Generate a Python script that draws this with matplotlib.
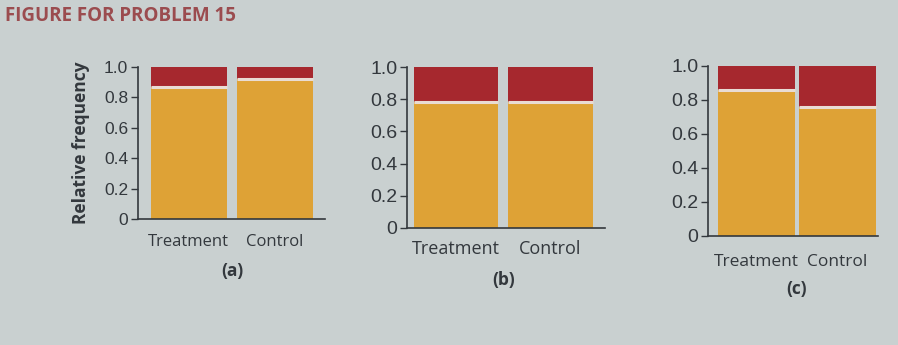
import matplotlib
matplotlib.use("Agg")
import matplotlib.pyplot as plt

# relative frequencies (lower = yellow, upper = red)
groups = ["Treatment", "Control"]
panel_names = ["(a)", "(b)", "(c)"]
lower_a = [0.87, 0.92]
upper_a = [0.13, 0.08]
lower_b = [0.78, 0.78]
upper_b = [0.22, 0.22]
lower_c = [0.86, 0.76]
upper_c = [0.14, 0.24]
yticks = [0, 0.2, 0.4, 0.6, 0.8, 1.0]
ytick_labels = ["0", "0.2", "0.4", "0.6", "0.8", "1.0"]

BG = "#c9d0d0"
YELLOW = "#dea236"
RED = "#a6282e"
GAP = "#e9dcd4"
INK = "#33383d"

W, H = 898, 345
fig = plt.figure(figsize=(W / 100, H / 100), dpi=100, facecolor=BG)


def px_axes(left, right, bottom, top):
    return fig.add_axes([left / W, 1 - bottom / H, (right - left) / W, (bottom - top) / H])


def draw_panel(ax, lower, upper, name, xlim, width, tick_fs, lab_fs, lab_pad, name_y):
    ax.set_facecolor(BG)
    x = list(range(len(groups)))
    ax.bar(x, lower, width=width, color=YELLOW, linewidth=0)
    ax.bar(x, upper, bottom=lower, width=width, color=RED, linewidth=0)
    # thin light separator between segments
    for xi, lo in zip(x, lower):
        ax.hlines(lo, xi - width / 2, xi + width / 2, color=GAP, lw=2.2)
    ax.set_xlim(*xlim)
    ax.set_ylim(0, 1.0)
    ax.set_yticks(yticks)
    ax.set_yticklabels(ytick_labels, fontsize=tick_fs, color=INK, family="Liberation Sans")
    ax.set_xticks(x)
    ax.set_xticklabels(groups, fontsize=lab_fs, color=INK, family="Open Sans")
    ax.tick_params(axis="x", length=0, pad=lab_pad)
    ax.tick_params(axis="y", length=5, width=1, color=INK, pad=2, direction="out")
    for s in ["top", "right"]:
        ax.spines[s].set_visible(False)
    for s in ["left", "bottom"]:
        ax.spines[s].set_color(INK)
        ax.spines[s].set_linewidth(1.2)
    ax.text(0.5 * (x[0] + x[-1]), name_y, name, transform=ax.get_xaxis_transform(),
            ha="center", va="center", fontsize=12.5, fontweight="bold",
            color=INK, family="Open Sans")
    return ax


ax_a = px_axes(138, 325, 219, 67)
draw_panel(ax_a, lower_a, upper_a, panel_names[0], (-0.59, 1.58), 0.88, 12.5, 12, 11, -0.34)
ax_a.set_ylabel("Relative frequency", fontsize=12.5, fontweight="bold", color=INK,
                family="Open Sans", labelpad=10)

ax_b = px_axes(407, 605, 228, 67)
draw_panel(ax_b, lower_b, upper_b, panel_names[1], (-0.52, 1.58), 0.9, 14, 13, 9, -0.32)

ax_c = px_axes(708, 878, 236, 66)
draw_panel(ax_c, lower_c, upper_c, panel_names[2], (-0.6, 1.5), 0.96, 14, 12.5, 13, -0.31)
ax_c.get_xticklabels()[0].set_x(-0.05)

fig.text(5 / W, 1 - 16 / H, "FIGURE FOR PROBLEM 15", fontsize=13.5, fontweight="bold",
         color="#9b4c4f", family="Open Sans", ha="left", va="center")

fig.savefig("out.png", dpi=100, facecolor=BG)
